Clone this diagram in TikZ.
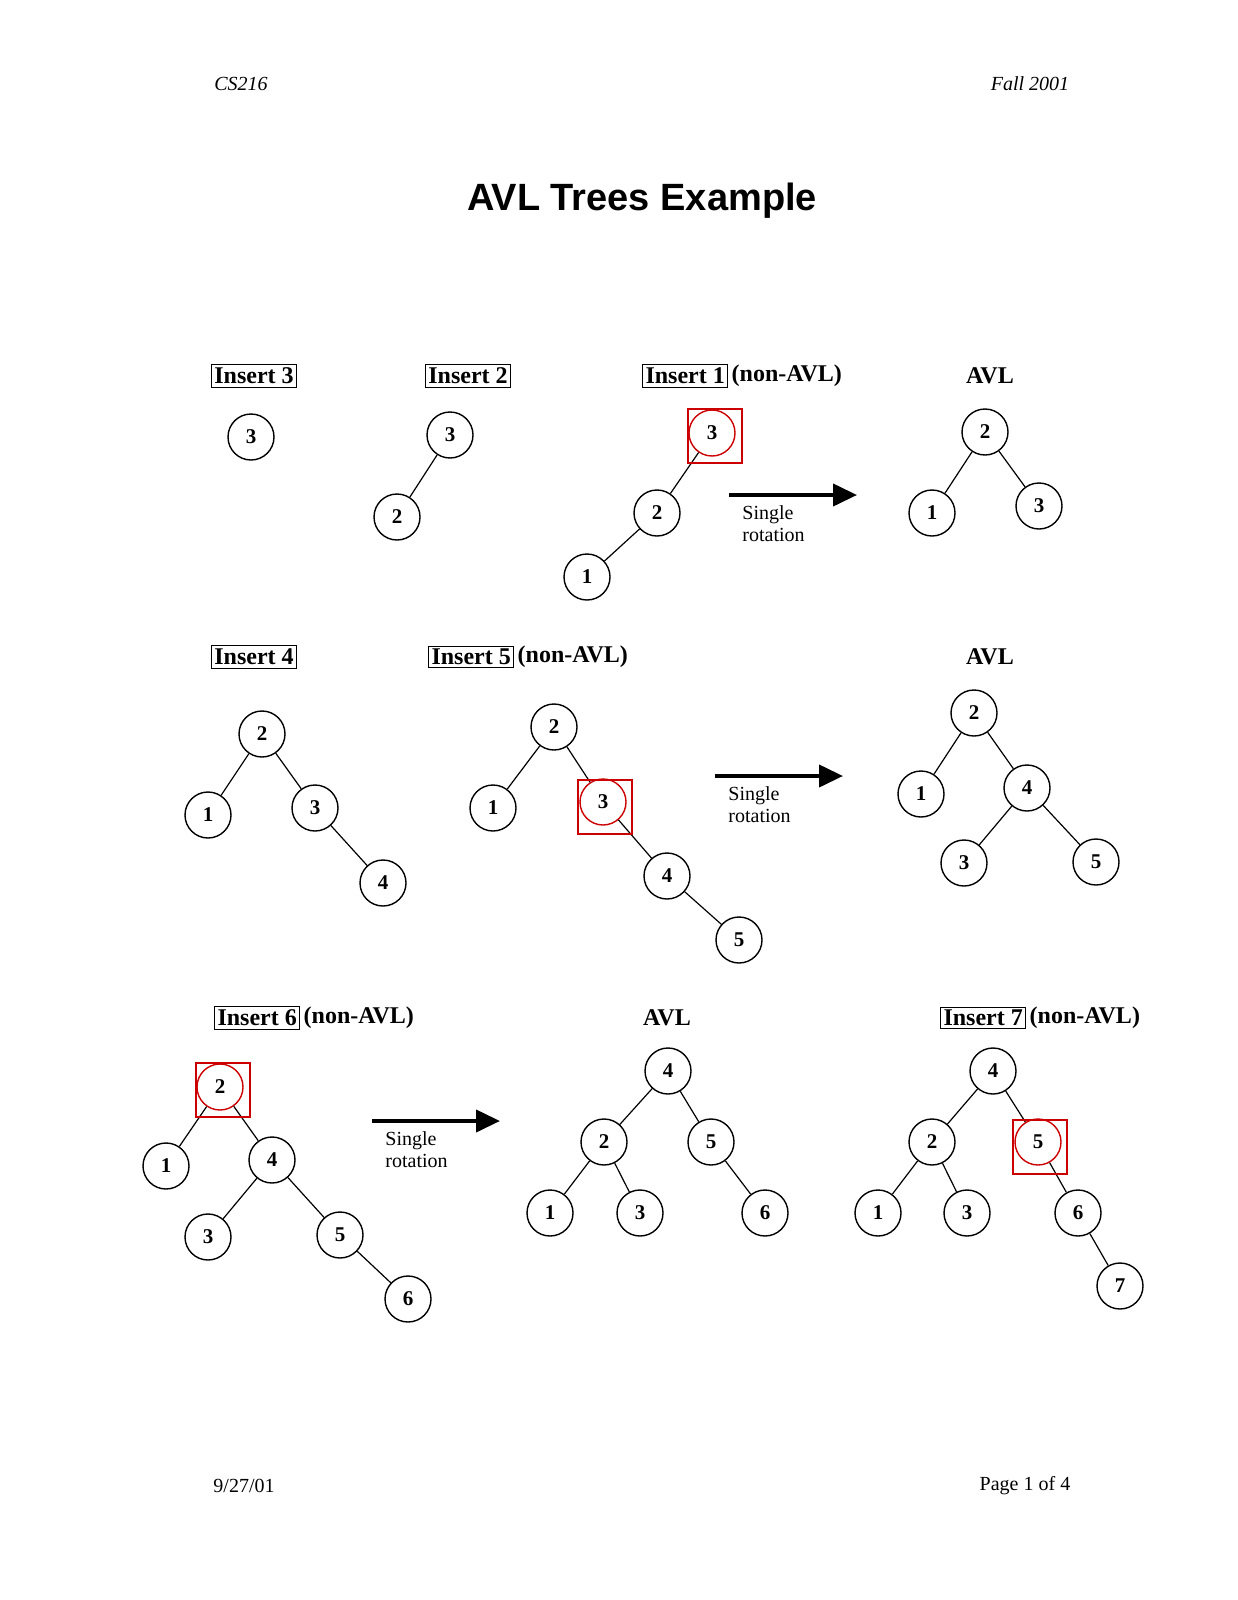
\documentclass[tikz,border=0pt]{standalone}
\usepackage{fontspec}
\setmainfont{Liberation Serif}
\newfontfamily\sansf{Liberation Sans}
\usetikzlibrary{arrows.meta}
\begin{document}
\begin{tikzpicture}[x=0.5pt,y=-0.5pt,
  n/.style={circle,draw,line width=0.7pt,minimum size=23pt,inner sep=0pt,font=\fontsize{10.5}{12}\selectfont\bfseries},
  rn/.style={n,draw=red!80!black},
  e/.style={line width=0.6pt},
  lbl/.style={font=\fontsize{12}{14}\selectfont\bfseries,inner sep=1.5pt},
  box/.style={lbl,draw,line width=0.5pt},
  note/.style={font=\fontsize{10}{11}\selectfont,align=left,anchor=north west,inner sep=0pt},
  arr/.style={line width=2pt,-{Triangle[length=12pt,width=11pt]}},
  rsq/.style={draw=red!80!black,line width=0.7pt}]
\useasboundingbox (0,0) rectangle (1237,1600);
\node[font=\fontsize{10}{12}\selectfont\itshape] (h1) at (241,84) {CS216};
\node[font=\fontsize{10}{12}\selectfont\itshape] (h2) at (1030,84) {Fall 2001};
\node[font=\sansf\fontsize{19}{22}\selectfont\bfseries] (title) at (642,201) {AVL Trees Example};
\node[font=\fontsize{10}{12}\selectfont] (f1) at (244,1486) {9/27/01};
\node[font=\fontsize{10}{12}\selectfont] (f2) at (1025,1486) {Page 1 of 4};
% row 1
\node[box] (L1) at (254,376) {Insert 3};
\node[n] (a3) at (251,437) {3};
\node[box] (L2) at (468,376) {Insert 2};
\node[n] (b3) at (450,435) {3};
\node[n] (b2) at (397,517) {2};
\draw[e] (b3)--(b2);
\node[box,anchor=west] (L3) at (642,376) {Insert 1};
\node[lbl,anchor=west] (L3b) at (L3.east) {(non-AVL)};
\node[rn] (c3) at (712,433) {3};
\node[n] (c2) at (657,513) {2};
\node[n] (c1) at (587,577) {1};
\draw[e] (c3)--(c2) (c2)--(c1);
\node[rsq,minimum size=27pt,inner sep=0pt] (s1) at (715,436) {};
\coordinate (ar1s) at (729,495); \coordinate (ar1e) at (857,495);
\draw[arr] (ar1s)--(ar1e);
\node[note] (t1) at (742,505) {Single\\rotation};
\node[lbl] (L4) at (990,376) {AVL};
\node[n] (d2) at (985,432) {2};
\node[n] (d1) at (932,513) {1};
\node[n] (d3) at (1039,506) {3};
\draw[e] (d2)--(d1) (d2)--(d3);
% row 2
\node[box] (L5) at (254,657) {Insert 4};
\node[n] (e2) at (262,734) {2};
\node[n] (e1) at (208,815) {1};
\node[n] (e3) at (315,808) {3};
\node[n] (e4) at (383,883) {4};
\draw[e] (e2)--(e1) (e2)--(e3) (e3)--(e4);
\node[box,anchor=west] (L6) at (428,657) {Insert 5};
\node[lbl,anchor=west] (L6b) at (L6.east) {(non-AVL)};
\node[n] (g2) at (554,727) {2};
\node[n] (g1) at (493,808) {1};
\node[rn] (g3) at (603,802) {3};
\node[n] (g4) at (667,876) {4};
\node[n] (g5) at (739,940) {5};
\draw[e] (g2)--(g1) (g2)--(g3) (g3)--(g4) (g4)--(g5);
\node[rsq,minimum size=27pt,inner sep=0pt] (s2) at (605,807) {};
\coordinate (ar2s) at (715,776); \coordinate (ar2e) at (843,776);
\draw[arr] (ar2s)--(ar2e);
\node[note] (t2) at (728,786) {Single\\rotation};
\node[lbl] (L7) at (990,657) {AVL};
\node[n] (h2n) at (974,713) {2};
\node[n] (h1n) at (921,794) {1};
\node[n] (h4) at (1027,788) {4};
\node[n] (h3) at (964,863) {3};
\node[n] (h5) at (1096,862) {5};
\draw[e] (h2n)--(h1n) (h2n)--(h4) (h4)--(h3) (h4)--(h5);
% row 3
\node[box,anchor=west] (L8) at (214,1018) {Insert 6};
\node[lbl,anchor=west] (L8b) at (L8.east) {(non-AVL)};
\node[rn] (i2) at (220,1087) {2};
\node[n] (i1) at (166,1166) {1};
\node[n] (i4) at (272,1160) {4};
\node[n] (i3) at (208,1237) {3};
\node[n] (i5) at (340,1235) {5};
\node[n] (i6) at (408,1299) {6};
\draw[e] (i2)--(i1) (i2)--(i4) (i4)--(i3) (i4)--(i5) (i5)--(i6);
\node[rsq,minimum size=27pt,inner sep=0pt] (s3) at (223,1090) {};
\coordinate (ar3s) at (372,1121); \coordinate (ar3e) at (500,1121);
\draw[arr] (ar3s)--(ar3e);
\node[note] (t3) at (385,1131) {Single\\rotation};
\node[lbl] (L9) at (667,1018) {AVL};
\node[n] (j4) at (668,1071) {4};
\node[n] (j2) at (604,1142) {2};
\node[n] (j5) at (711,1142) {5};
\node[n] (j1) at (550,1213) {1};
\node[n] (j3) at (640,1213) {3};
\node[n] (j6) at (765,1213) {6};
\draw[e] (j4)--(j2) (j4)--(j5) (j2)--(j1) (j2)--(j3) (j5)--(j6);
\node[box,anchor=west] (L10) at (940,1018) {Insert 7};
\node[lbl,anchor=west] (L10b) at (L10.east) {(non-AVL)};
\node[n] (k4) at (993,1071) {4};
\node[n] (k2) at (932,1142) {2};
\node[rn] (k5) at (1038,1142) {5};
\node[n] (k1) at (878,1213) {1};
\node[n] (k3) at (967,1213) {3};
\node[n] (k6) at (1078,1213) {6};
\node[n] (k7) at (1120,1286) {7};
\draw[e] (k4)--(k2) (k4)--(k5) (k2)--(k1) (k2)--(k3) (k5)--(k6) (k6)--(k7);
\node[rsq,minimum size=27pt,inner sep=0pt] (s4) at (1040,1147) {};
\end{tikzpicture}
\end{document}
